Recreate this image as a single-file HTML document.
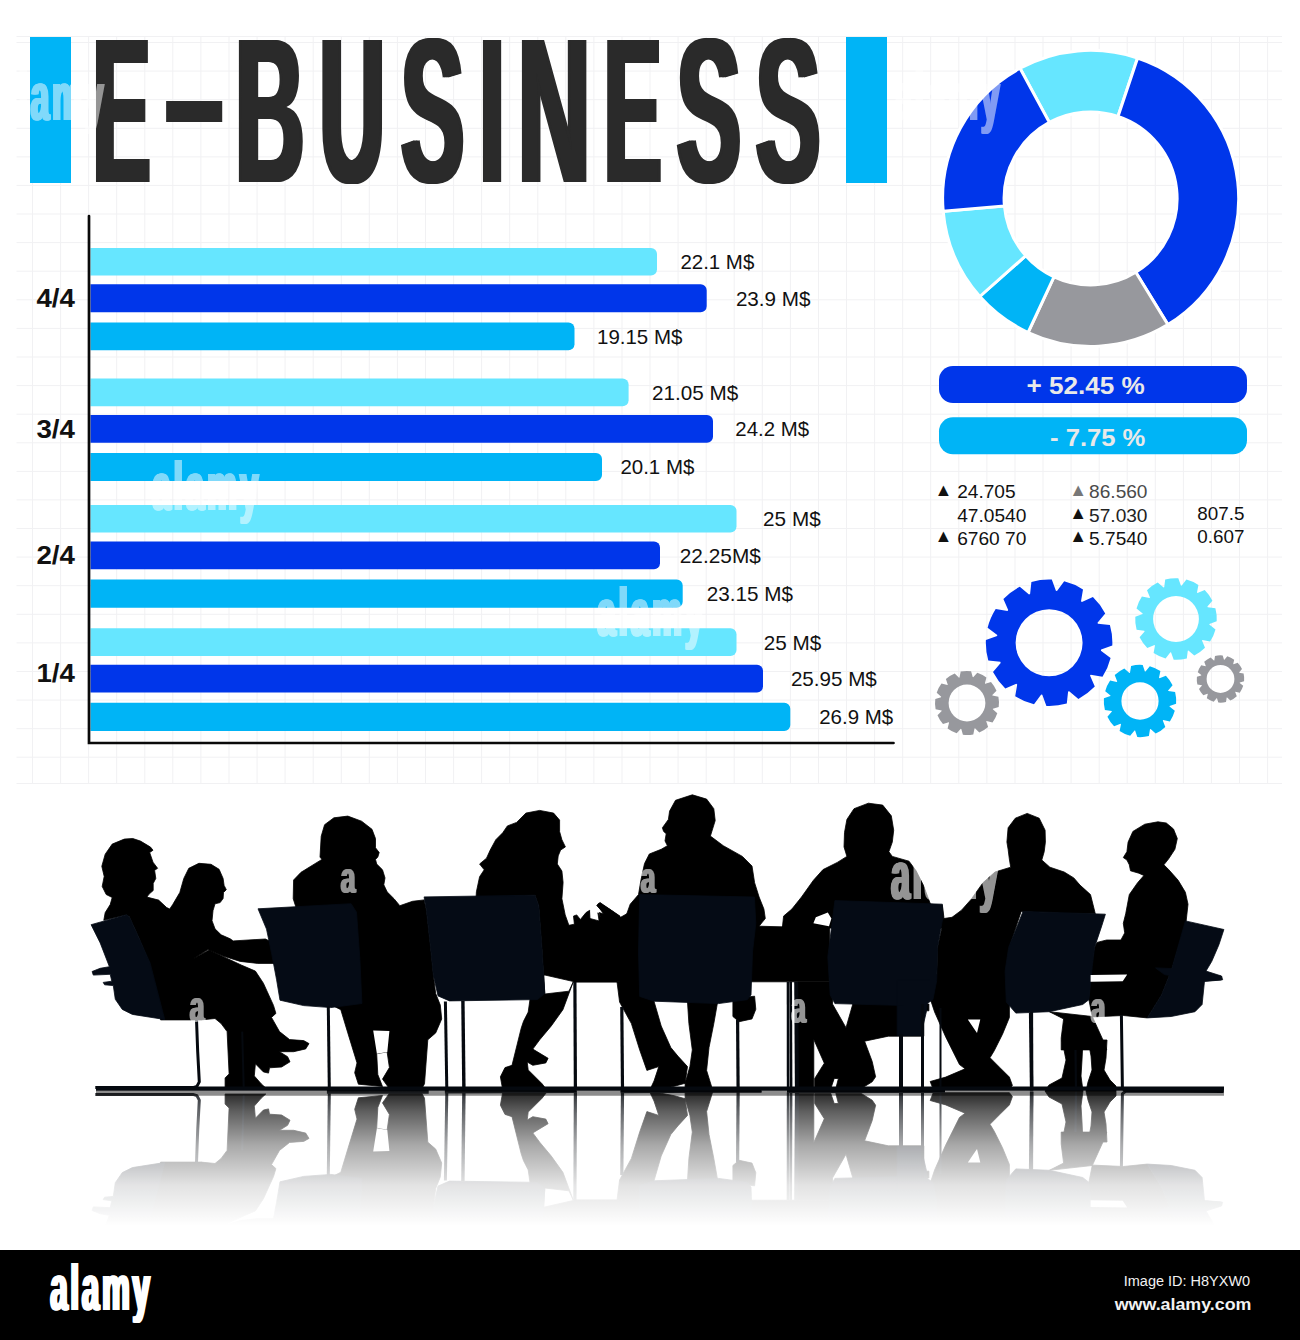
<!DOCTYPE html>
<html lang="en"><head><meta charset="utf-8"><title>E-Business</title>
<style>
html,body{margin:0;padding:0;background:#fff;}
body{width:1300px;height:1340px;position:relative;overflow:hidden;font-family:"Liberation Sans", sans-serif;}
svg{position:absolute;left:0;top:0;}
svg text{font-family:"Liberation Sans", sans-serif;}
.title{position:absolute;left:0;top:0;width:0;height:0;color:#2a2a2a;font-weight:bold;font-size:200px;line-height:1;}
.title span{position:absolute;left:0;top:0;display:block;white-space:pre;transform-origin:0 0;}
.foot{position:absolute;left:0;top:1250px;width:1300px;height:90px;background:#000;}
.logo{position:absolute;left:0;top:0;color:#fff;font-weight:bold;font-size:60px;line-height:1;white-space:pre;transform-origin:0 0;}
.fid,.furl{position:absolute;left:0;top:0;color:#f2f2f2;white-space:pre;line-height:1;transform-origin:0 0;}
.wm{position:absolute;left:0;top:0;color:#fff;font-weight:bold;font-size:60px;line-height:1;white-space:pre;transform-origin:0 0;}
</style></head><body>
<svg width="1300" height="1340" viewBox="0 0 1300 1340">
<defs><linearGradient id="fadeg" x1="0" y1="0" x2="0" y2="1"><stop offset="0" stop-color="#fff" stop-opacity="0.86"/><stop offset="0.15" stop-color="#fff" stop-opacity="0.63"/><stop offset="0.4" stop-color="#fff" stop-opacity="0.34"/><stop offset="0.7" stop-color="#fff" stop-opacity="0.11"/><stop offset="1" stop-color="#fff" stop-opacity="0"/></linearGradient><mask id="fadem" maskUnits="userSpaceOnUse" x="0" y="1091.0" width="1300" height="140"><rect x="0" y="1091.0" width="1300" height="135" fill="url(#fadeg)"/></mask><g id="sil"><path d="M124.3 839.1L132.8 838.5L140.5 841.1L150.5 847.1L153.0 850.2L149.7 852.6L153.0 862.2L157.6 868.3L154.6 870.3L155.8 878.4L153.2 883.4L153.2 890.5L149.1 894.1L146.9 897.1L158.6 900.1L166.7 907.6L169.7 909.0L180.8 930.8L192.9 959.0L209.0 983.2L221.1 1011.4L200.9 1019.9L160.6 1019.9L149.5 963.0L138.5 936.8L129.4 916.7L126.4 914.7L103.8 920.3L105.2 912.6L110.2 904.6L112.2 897.5L106.2 894.5L102.2 886.4L104.2 876.4L101.8 866.3L105.2 854.2L112.2 844.1ZM198.9 863.3L211.0 864.3L219.1 869.3L223.1 878.4L224.1 885.4L226.3 889.7L223.5 892.5L223.1 898.5L220.1 902.6L215.0 903.8L213.0 910.6L212.0 920.7L215.0 928.8L221.1 934.8L230.2 938.8L233.2 940.9L265.4 939.0L273.5 942.9L274.5 963.4L257.6 963.4L240.2 961.4L223.1 956.0L208.0 949.5L192.9 959.0L180.8 930.8L169.7 909.0L172.7 904.6L179.8 892.5L183.8 878.4L188.8 868.3ZM192.9 959.0L209.0 949.9L241.2 965.0L255.4 971.1L263.4 983.2L273.5 1005.4L275.9 1013.4L271.5 1017.4L279.5 1031.6L289.6 1039.6L303.7 1040.6L309.0 1043.6L305.7 1048.9L293.6 1051.7L279.5 1051.7L287.6 1056.7L290.0 1061.8L281.6 1067.0L269.5 1067.8L268.5 1073.1L263.4 1071.9L255.4 1063.8L254.3 1075.9L261.4 1084.0L265.8 1088.0L225.1 1088.0L225.1 1077.9L229.1 1073.9L227.1 1031.6L221.1 1023.5L215.0 1018.5L200.9 1019.9L209.0 983.2ZM321.2 836.3L324.6 824.7L333.9 817.8L347.8 816.1L361.6 821.2L372.0 829.3L375.5 838.6L375.5 847.8L379.2 852.5L377.8 857.1L375.5 859.4L376.7 864.0L382.5 869.8L385.0 877.9L383.8 884.8L387.1 891.8L394.0 898.7L399.8 905.7L412.5 901.3L424.1 899.9L426.4 910.3L431.0 951.9L433.3 975.0L435.7 993.5L440.3 1005.1L441.7 1019.0L435.7 1032.9L427.8 1039.8L424.5 1083.8L421.8 1088.8L389.4 1088.8L382.5 1079.1L389.4 1067.6L387.1 1051.8L376.7 1053.7L377.8 1074.5L382.5 1086.5L358.4 1084.2L354.7 1072.7L357.0 1062.9L347.8 1032.9L340.8 1009.7L320.0 999.3L306.1 998.2L302.7 951.9L296.9 910.3L293.2 898.7L293.6 880.0L301.0 872.3L321.9 859.4L320.0 857.1ZM516.6 822.4L525.9 813.1L539.7 810.4L553.6 813.1L559.6 820.1L559.6 831.6L561.9 839.7L565.4 846.9L560.6 850.1L558.2 855.9L557.3 864.0L561.9 871.0L563.1 882.5L561.9 898.7L565.2 914.9L568.9 925.3L574.4 924.2L573.5 916.1L576.7 914.9L580.4 919.5L586.0 912.6L589.7 910.3L588.5 919.5L597.6 923.0L601.3 919.5L599.0 912.6L603.6 913.7L597.6 905.7L600.1 902.6L611.4 910.3L620.0 916.1L620.0 982.0L573.3 982.0L568.9 991.2L544.8 994.0L542.1 949.6L538.8 905.7L535.1 895.2L476.1 896.9L476.4 891.8L479.6 876.7L484.2 869.8L479.6 864.0L486.5 858.2L490.2 850.1L495.8 839.7L502.7 832.8L507.4 825.9ZM532.8 979.7L528.2 1012.1L523.5 1021.3L521.2 1028.2L512.0 1065.3L505.0 1067.6L500.4 1076.8L502.7 1089.8L546.7 1089.8L542.1 1083.8L528.2 1069.9L527.2 1062.0L532.8 1065.3L545.8 1062.9L548.1 1058.3L532.8 1049.1L539.7 1039.8L551.3 1025.9L562.9 1009.7L569.8 991.2L573.3 981.5L544.8 975.0ZM575.2 920.9L580.0 920.9L584.8 917.3L589.6 911.4L590.0 918.5L599.1 920.9L597.9 912.8L600.5 917.3L606.3 916.1L596.7 905.4L599.1 902.8L611.1 910.2L620.6 917.3L626.8 913.8L639.7 928.1L759.1 926.2L829.6 928.1L829.6 981.8L575.2 981.8ZM692.3 794.8L706.6 799.1L713.8 808.7L715.2 820.6L710.4 836.1L723.3 845.7L742.4 856.4L752.0 866.0L754.6 882.7L759.1 897.0L763.9 909.0L765.3 918.5L759.1 926.2L755.6 947.2L639.7 947.2L626.8 913.8L630.2 904.2L638.5 894.6L640.9 880.3L644.5 863.6L649.3 854.0L661.2 849.3L667.4 845.7L665.0 840.9L666.2 833.7L663.6 831.4L662.4 827.8L668.4 819.4L669.6 811.1L675.5 800.3ZM732.9 998.5L732.9 1016.5L739.1 1021.7L752.0 1018.9L755.8 1009.3L754.6 996.2ZM617.0 981.8L619.6 1002.1L631.4 1023.6L639.7 1049.9L646.9 1070.4L658.8 1066.6L654.0 1081.0L649.3 1091.0L674.6 1086.2L685.1 1083.3L687.5 1066.6L677.9 1056.1L670.8 1047.5L661.2 1026.0L654.0 1001.2L651.7 981.8ZM687.5 1002.1L688.9 1023.6L692.3 1049.9L689.9 1066.6L685.1 1083.3L685.1 1090.5L712.8 1090.5L706.6 1070.4L709.0 1047.5L713.8 1023.6L717.6 1002.1ZM868.4 803.2L882.7 805.1L891.3 815.8L893.7 830.2L892.3 842.1L888.9 851.7L892.3 856.4L909.0 861.2L916.1 870.8L923.3 885.1L930.5 904.2L942.4 905.4L943.9 917.3L942.4 928.1L827.8 928.1L794.3 928.1L782.4 927.1L783.6 916.1L791.9 909.0L801.5 897.0L813.4 880.3L823.0 869.6L837.3 862.4L846.9 856.4L844.0 846.9L844.5 832.5L846.9 819.4L854.0 808.7ZM797.8 982.0L832.5 982.0L832.5 1004.0L846.0 1027.7L852.8 1004.0L928.9 1004.0L928.9 1010.8L923.8 1010.8L923.8 1036.2L888.3 1036.2L864.6 1041.2L872.2 1061.5L875.6 1076.8L872.2 1081.8L861.2 1088.6L835.8 1088.6L838.4 1078.5L834.2 1078.5L830.8 1088.6L814.7 1088.6L814.7 1078.5L824.3 1063.2L813.8 1039.5L813.8 1088.6L797.8 1088.6ZM1027.2 813.4L1039.2 818.2L1045.1 830.2L1045.4 842.1L1044.2 851.7L1041.8 860.0L1049.9 867.2L1064.2 872.0L1073.8 877.9L1080.0 885.1L1090.5 894.6L1095.3 913.8L1080.0 913.8L1021.2 911.4L1009.3 947.2L1006.0 971.1L1006.9 1002.1L995.0 1009.3L947.2 1009.3L930.5 995.0L936.7 980.6L937.6 947.2L943.9 918.5L952.0 917.3L961.5 910.2L971.1 899.4L983.0 882.7L995.0 872.0L1010.7 867.2L1009.3 858.8L1008.1 849.3L1006.9 842.1L1008.1 827.8L1015.3 818.2ZM929.1 974.6L1009.4 974.6L1009.4 1017.5L1002.5 1034.2L994.2 1050.8L990.0 1057.7L999.7 1067.4L1009.4 1077.1L1012.4 1085.4L1009.4 1089.3L933.2 1089.3L930.2 1081.5L945.7 1077.1L965.1 1068.8L959.5 1064.6L945.7 1036.9L934.6 1012.0L929.1 995.4ZM1157.9 821.8L1166.3 823.0L1173.5 829.0L1177.3 838.5L1174.9 849.3L1168.7 858.8L1163.9 864.8L1168.7 869.6L1178.2 880.3L1185.4 892.3L1188.0 904.2L1185.9 923.3L1171.1 971.1L1161.5 995.0L1147.2 1017.9L1123.3 1015.5L1092.3 1016.9L1088.9 999.7L1089.9 975.9L1094.6 947.2L1097.0 942.4L1106.6 940.0L1120.9 940.0L1124.7 932.9L1123.3 923.3L1125.7 913.8L1129.3 894.6L1137.6 882.7L1143.9 875.5L1138.8 873.2L1130.5 870.8L1129.3 864.8L1126.9 860.0L1123.3 857.6L1126.9 851.7L1128.1 842.1L1132.9 831.4L1144.8 824.2ZM1049.3 1011.7L1092.3 1016.5L1104.2 1042.7L1106.8 1049.9L1061.2 1049.9L1061.2 1038.0L1063.6 1018.9ZM1062.0 1040.0L1083.0 1040.0L1082.0 1060.0L1081.0 1076.0L1083.0 1091.0L1045.0 1091.0L1049.0 1085.0L1062.0 1078.0L1066.0 1060.0ZM1088.0 1040.0L1107.0 1040.0L1106.0 1058.0L1104.0 1070.0L1110.0 1080.0L1116.0 1086.0L1116.0 1091.0L1086.0 1091.0L1088.0 1082.0L1092.0 1070.0L1091.0 1056.0Z" fill="#000" stroke="#000" stroke-width="0.8" stroke-linejoin="round"/><path d="M91.1 924.7L126.4 914.7L129.4 916.7L138.5 936.8L146.5 955.0L150.1 963.0L164.7 1019.5L132.4 1014.4L122.3 1009.4L115.3 999.3L113.3 985.6L104.6 984.8L103.2 982.4L111.8 981.2L110.2 974.3L93.3 975.1L92.1 971.5L100.2 968.3L109.4 966.7L100.2 942.9ZM258.0 908.8L351.1 903.7L356.5 912.2L359.9 959.5L361.9 1003.5L330.8 1007.6L303.7 1005.6L280.0 1000.2L276.6 979.8L271.5 952.8L266.5 929.1ZM424.1 896.9L535.1 895.2L538.8 905.7L542.1 949.6L544.8 993.5L537.4 999.6L449.5 1000.9L438.0 995.9L433.3 975.0L431.0 951.9L426.4 910.3ZM639.7 894.6L754.4 897.0L755.8 923.3L752.5 952.0L751.0 995.0L747.2 999.7L718.5 1003.6L654.0 1001.2L639.7 996.4L638.5 952.0ZM834.9 900.6L942.4 904.2L942.9 917.3L937.6 947.2L936.7 980.6L932.9 999.7L923.3 1006.0L834.9 1003.6L830.2 995.0L827.8 956.8ZM897.2 980.2L929.8 980.2L927.7 998.2L926.3 1012.0L920.8 1035.5L897.2 1035.5ZM1023.0 911.4L1105.4 914.2L1101.8 925.7L1094.6 947.2L1092.3 966.3L1088.9 999.7L1082.7 1004.5L1049.3 1011.7L1015.8 1013.1L1006.3 1002.1L1005.1 971.1L1008.7 947.2ZM1185.4 920.9L1223.9 929.5L1218.9 944.8L1211.7 961.5L1206.0 971.1L1221.2 975.9L1222.7 979.7L1204.5 981.1L1202.1 1004.5L1195.0 1011.7L1171.1 1016.5L1147.2 1017.9L1161.5 995.0L1171.1 971.1ZM1155.5 967.9L1183.9 969.0L1221.9 976.4L1221.5 980.0L1203.3 981.5L1164.5 974.6Z" fill="#050b15" stroke="#050b15" stroke-width="0.8" stroke-linejoin="round"/><path d="M196.5 1019.5L197.7 1051.7L199.3 1081.9L196.9 1086.4L192.9 1087.6L95.3 1087.6" fill="none" stroke="#05090f" stroke-width="3.0" stroke-linejoin="round"/><path d="M242.2 1031.6L243.7 1087.0" fill="none" stroke="#05090f" stroke-width="2.0" stroke-linejoin="round"/><path d="M328.3 1006.3L329.3 1088.8" fill="none" stroke="#05090f" stroke-width="3.0" stroke-linejoin="round"/><path d="M326.9 1089.8L428.7 1089.8" fill="none" stroke="#05090f" stroke-width="3.0" stroke-linejoin="round"/><path d="M445.4 1001.6L446.8 1089.8" fill="none" stroke="#05090f" stroke-width="3.0" stroke-linejoin="round"/><path d="M462.9 1000.9L463.9 1089.8" fill="none" stroke="#05090f" stroke-width="3.4" stroke-linejoin="round"/><path d="M574.9 982.0L575.4 1089.8" fill="none" stroke="#05090f" stroke-width="3.2" stroke-linejoin="round"/><path d="M444.9 1090.0L576.7 1090.5" fill="none" stroke="#05090f" stroke-width="3.0" stroke-linejoin="round"/><path d="M621.8 1006.9L622.5 1090.0" fill="none" stroke="#05090f" stroke-width="3.2" stroke-linejoin="round"/><path d="M737.6 1020.0L738.1 1090.0" fill="none" stroke="#05090f" stroke-width="3.2" stroke-linejoin="round"/><path d="M620.6 1090.3L761.5 1091.0" fill="none" stroke="#05090f" stroke-width="3.2" stroke-linejoin="round"/><path d="M790.7 981.8L791.1 1090.5" fill="none" stroke="#05090f" stroke-width="2.6" stroke-linejoin="round"/><path d="M796.2 981.8L796.9 1090.5" fill="none" stroke="#05090f" stroke-width="4.0" stroke-linejoin="round"/><path d="M788.0 982.0L788.1 1089.5" fill="none" stroke="#05090f" stroke-width="2.6" stroke-linejoin="round"/><path d="M901.0 1034.0L901.0 1090.0" fill="none" stroke="#05090f" stroke-width="4.0" stroke-linejoin="round"/><path d="M922.5 1004.0L922.5 1090.0" fill="none" stroke="#05090f" stroke-width="3.0" stroke-linejoin="round"/><path d="M940.5 1008.0L940.5 1090.0" fill="none" stroke="#05090f" stroke-width="2.0" stroke-linejoin="round"/><path d="M787.0 1090.5L945.0 1090.5" fill="none" stroke="#05090f" stroke-width="3.0" stroke-linejoin="round"/><path d="M1030.6 1012.9L1031.6 1090.5" fill="none" stroke="#05090f" stroke-width="3.4" stroke-linejoin="round"/><path d="M1075.5 1049.9L1076.0 1090.5" fill="none" stroke="#05090f" stroke-width="2.2" stroke-linejoin="round"/><path d="M1031.5 1012.0L1031.8 1090.2" fill="none" stroke="#05090f" stroke-width="3.2" stroke-linejoin="round"/><path d="M1121.4 1015.3L1122.4 1088.1L1125.7 1091.0L1223.6 1091.5" fill="none" stroke="#05090f" stroke-width="3.0" stroke-linejoin="round"/><path d="M373.2 1030.6L389.4 1031.0L387.3 1052.1L376.9 1053.7ZM813.4 923.3L815.8 917.3L827.8 912.6L831.4 918.5L829.0 926.2ZM967.8 1019.5L980.3 1019.5L977.0 1033.0ZM1090.6 975.1L1127.2 974.6L1122.7 981.3L1090.6 981.8Z" fill="#fff"/></g></defs>
<path d="M32.5 36.5V783.5M60.6 36.5V783.5M88.6 36.5V783.5M116.7 36.5V783.5M144.8 36.5V783.5M172.8 36.5V783.5M200.9 36.5V783.5M229.0 36.5V783.5M257.1 36.5V783.5M285.1 36.5V783.5M313.2 36.5V783.5M341.3 36.5V783.5M369.3 36.5V783.5M397.4 36.5V783.5M425.5 36.5V783.5M453.6 36.5V783.5M481.6 36.5V783.5M509.7 36.5V783.5M537.8 36.5V783.5M565.8 36.5V783.5M593.9 36.5V783.5M622.0 36.5V783.5M650.0 36.5V783.5M678.1 36.5V783.5M706.2 36.5V783.5M734.2 36.5V783.5M762.3 36.5V783.5M790.4 36.5V783.5M818.5 36.5V783.5M846.5 36.5V783.5M874.6 36.5V783.5M902.7 36.5V783.5M930.7 36.5V783.5M958.8 36.5V783.5M986.9 36.5V783.5M1015.0 36.5V783.5M1043.0 36.5V783.5M1071.1 36.5V783.5M1099.2 36.5V783.5M1127.2 36.5V783.5M1155.3 36.5V783.5M1183.4 36.5V783.5M1211.4 36.5V783.5M1239.5 36.5V783.5M1267.6 36.5V783.5M16.5 42.5H1282M16.5 71.1H1282M16.5 99.7H1282M16.5 128.3H1282M16.5 156.9H1282M16.5 185.4H1282M16.5 214.0H1282M16.5 242.6H1282M16.5 271.2H1282M16.5 299.8H1282M16.5 328.4H1282M16.5 357.0H1282M16.5 385.6H1282M16.5 414.2H1282M16.5 442.8H1282M16.5 471.4H1282M16.5 499.9H1282M16.5 528.5H1282M16.5 557.1H1282M16.5 585.7H1282M16.5 614.3H1282M16.5 642.9H1282M16.5 671.5H1282M16.5 700.1H1282M16.5 728.7H1282M16.5 757.2H1282M16.5 36.5H1282M16.5 783.5H1282" stroke="#f1f1f3" stroke-width="1" fill="none"/>
<rect x="30" y="37" width="41" height="146" fill="#00b4f6"/>
<rect x="846" y="37" width="41" height="146" fill="#00b4f6"/>
<path d="M90.5 248.0H651.0a6 6 0 0 1 6 6V269.6a6 6 0 0 1 -6 6H90.5Z" fill="#66e6ff"/>
<path d="M90.5 284.3H700.7a6 6 0 0 1 6 6V306.2a6 6 0 0 1 -6 6H90.5Z" fill="#0036ea"/>
<path d="M90.5 322.4H568.5a6 6 0 0 1 6 6V344.3a6 6 0 0 1 -6 6H90.5Z" fill="#00b4f6"/>
<path d="M90.5 378.6H622.6a6 6 0 0 1 6 6V400.2a6 6 0 0 1 -6 6H90.5Z" fill="#66e6ff"/>
<path d="M90.5 415.0H707.0a6 6 0 0 1 6 6V436.8a6 6 0 0 1 -6 6H90.5Z" fill="#0036ea"/>
<path d="M90.5 453.0H596.0a6 6 0 0 1 6 6V474.9a6 6 0 0 1 -6 6H90.5Z" fill="#00b4f6"/>
<path d="M90.5 504.9H730.5a6 6 0 0 1 6 6V526.6a6 6 0 0 1 -6 6H90.5Z" fill="#66e6ff"/>
<path d="M90.5 541.4H654.0a6 6 0 0 1 6 6V563.2a6 6 0 0 1 -6 6H90.5Z" fill="#0036ea"/>
<path d="M90.5 579.4H676.7a6 6 0 0 1 6 6V601.8a6 6 0 0 1 -6 6H90.5Z" fill="#00b4f6"/>
<path d="M90.5 628.2H730.5a6 6 0 0 1 6 6V650.0a6 6 0 0 1 -6 6H90.5Z" fill="#66e6ff"/>
<path d="M90.5 664.8H757.0a6 6 0 0 1 6 6V686.6a6 6 0 0 1 -6 6H90.5Z" fill="#0036ea"/>
<path d="M90.5 702.8H784.3a6 6 0 0 1 6 6V724.9a6 6 0 0 1 -6 6H90.5Z" fill="#00b4f6"/>
<text x="680.4" y="269.3" font-size="21" textLength="73.9" lengthAdjust="spacingAndGlyphs" fill="#111">22.1 M$</text>
<text x="735.9" y="305.8" font-size="21" textLength="74.6" lengthAdjust="spacingAndGlyphs" fill="#111">23.9 M$</text>
<text x="597.0" y="343.9" font-size="21" textLength="85.4" lengthAdjust="spacingAndGlyphs" fill="#111">19.15 M$</text>
<text x="652.0" y="399.9" font-size="21" textLength="86.2" lengthAdjust="spacingAndGlyphs" fill="#111">21.05 M$</text>
<text x="735.3" y="436.4" font-size="21" textLength="73.7" lengthAdjust="spacingAndGlyphs" fill="#111">24.2 M$</text>
<text x="620.4" y="474.4" font-size="21" textLength="74.0" lengthAdjust="spacingAndGlyphs" fill="#111">20.1 M$</text>
<text x="763.1" y="526.2" font-size="21" textLength="57.6" lengthAdjust="spacingAndGlyphs" fill="#111">25 M$</text>
<text x="679.8" y="562.8" font-size="21" textLength="81.0" lengthAdjust="spacingAndGlyphs" fill="#111">22.25M$</text>
<text x="706.7" y="601.1" font-size="21" textLength="86.2" lengthAdjust="spacingAndGlyphs" fill="#111">23.15 M$</text>
<text x="763.7" y="649.6" font-size="21" textLength="57.6" lengthAdjust="spacingAndGlyphs" fill="#111">25 M$</text>
<text x="790.9" y="686.2" font-size="21" textLength="85.9" lengthAdjust="spacingAndGlyphs" fill="#111">25.95 M$</text>
<text x="819.2" y="724.3" font-size="21" textLength="74.0" lengthAdjust="spacingAndGlyphs" fill="#111">26.9 M$</text>
<path d="M89 216V743H893.5" stroke="#0a0a0a" stroke-width="2.7" fill="none" stroke-linecap="round" stroke-linejoin="miter"/>
<text x="36.4" y="306.8" font-size="25" font-weight="bold" textLength="38.5" lengthAdjust="spacingAndGlyphs" fill="#111">4/4</text>
<text x="36.4" y="438.3" font-size="25" font-weight="bold" textLength="38.5" lengthAdjust="spacingAndGlyphs" fill="#111">3/4</text>
<text x="36.4" y="564.2" font-size="25" font-weight="bold" textLength="38.5" lengthAdjust="spacingAndGlyphs" fill="#111">2/4</text>
<text x="36.4" y="682.3" font-size="25" font-weight="bold" textLength="38.5" lengthAdjust="spacingAndGlyphs" fill="#111">1/4</text>
<path d="M1020.0 68.3A148.0 148.0 0 0 1 1137.6 58.0L1118.0 116.4A86.5 86.5 0 0 0 1049.3 122.4Z" fill="#66e6ff" stroke="#fff" stroke-width="3" stroke-linejoin="miter"/>
<path d="M1137.6 58.0A148.0 148.0 0 0 1 1167.9 324.6L1135.8 272.2A86.5 86.5 0 0 0 1118.0 116.4Z" fill="#0036ea" stroke="#fff" stroke-width="3" stroke-linejoin="miter"/>
<path d="M1167.9 324.6A148.0 148.0 0 0 1 1028.1 332.5L1054.0 276.8A86.5 86.5 0 0 0 1135.8 272.2Z" fill="#97989d" stroke="#fff" stroke-width="3" stroke-linejoin="miter"/>
<path d="M1028.1 332.5A148.0 148.0 0 0 1 979.8 296.5L1025.8 255.7A86.5 86.5 0 0 0 1054.0 276.8Z" fill="#00b4f6" stroke="#fff" stroke-width="3" stroke-linejoin="miter"/>
<path d="M979.8 296.5A148.0 148.0 0 0 1 943.2 211.3L1004.4 205.9A86.5 86.5 0 0 0 1025.8 255.7Z" fill="#66e6ff" stroke="#fff" stroke-width="3" stroke-linejoin="miter"/>
<path d="M943.2 211.3A148.0 148.0 0 0 1 1020.0 68.3L1049.3 122.4A86.5 86.5 0 0 0 1004.4 205.9Z" fill="#0036ea" stroke="#fff" stroke-width="3" stroke-linejoin="miter"/>
<rect x="939" y="366" width="308" height="37" rx="14" fill="#0036ea"/>
<rect x="939" y="417.3" width="308" height="37" rx="14" fill="#00b4f6"/>
<text x="1026.4" y="393.6" font-size="24" font-weight="bold" textLength="118.4" lengthAdjust="spacingAndGlyphs" fill="#e9e9e9">+ 52.45 %</text>
<text x="1050" y="445.6" font-size="24" font-weight="bold" textLength="95.4" lengthAdjust="spacingAndGlyphs" fill="#e9e9e9">- 7.75 %</text>
<text x="934.6" y="495.6" font-size="18" fill="#111" font-family="'DejaVu Sans', sans-serif">▲</text>
<text x="957.2" y="498.1" font-size="19" textLength="58.4" lengthAdjust="spacingAndGlyphs" fill="#111">24.705</text>
<text x="957.2" y="521.5" font-size="19" textLength="69.2" lengthAdjust="spacingAndGlyphs" fill="#111">47.0540</text>
<text x="934.6" y="542.3" font-size="18" fill="#111" font-family="'DejaVu Sans', sans-serif">▲</text>
<text x="957.2" y="544.7" font-size="19" textLength="69.2" lengthAdjust="spacingAndGlyphs" fill="#111">6760 70</text>
<text x="1069.2" y="495.6" font-size="18" fill="#777" font-family="'DejaVu Sans', sans-serif">▲</text>
<text x="1089.1" y="498.1" font-size="19" textLength="58.4" lengthAdjust="spacingAndGlyphs" fill="#4a4a4a">86.560</text>
<text x="1069.2" y="519.0" font-size="18" fill="#111" font-family="'DejaVu Sans', sans-serif">▲</text>
<text x="1089.1" y="521.5" font-size="19" textLength="58.4" lengthAdjust="spacingAndGlyphs" fill="#222">57.030</text>
<text x="1069.2" y="542.3" font-size="18" fill="#111" font-family="'DejaVu Sans', sans-serif">▲</text>
<text x="1089.1" y="544.7" font-size="19" textLength="58.4" lengthAdjust="spacingAndGlyphs" fill="#111">5.7540</text>
<text x="1197.3" y="520.2" font-size="19" textLength="47.1" lengthAdjust="spacingAndGlyphs" fill="#111">807.5</text>
<text x="1197.3" y="543.3" font-size="19" textLength="47.1" lengthAdjust="spacingAndGlyphs" fill="#111">0.607</text>
<path d="M1030.1 594.0L1031.4 582.0A63.3 63.3 0 0 1 1051.8 579.6L1055.9 590.8L1057.0 591.0L1064.2 581.3A63.3 63.3 0 0 1 1083.0 589.4L1081.0 601.2L1081.9 601.9L1092.9 597.1A63.3 63.3 0 0 1 1105.2 613.5L1097.5 622.7L1097.9 623.8L1109.9 625.1A63.3 63.3 0 0 1 1112.3 645.5L1101.1 649.6L1100.9 650.7L1110.6 657.9A63.3 63.3 0 0 1 1102.5 676.7L1090.7 674.7L1090.0 675.6L1094.8 686.6A63.3 63.3 0 0 1 1078.4 698.9L1069.2 691.2L1068.1 691.6L1066.8 703.6A63.3 63.3 0 0 1 1046.4 706.0L1042.3 694.8L1041.2 694.6L1034.0 704.3A63.3 63.3 0 0 1 1015.2 696.2L1017.2 684.4L1016.3 683.7L1005.3 688.5A63.3 63.3 0 0 1 993.0 672.1L1000.7 662.9L1000.3 661.8L988.3 660.5A63.3 63.3 0 0 1 985.9 640.1L997.1 636.0L997.3 634.9L987.6 627.7A63.3 63.3 0 0 1 995.7 608.9L1007.5 610.9L1008.2 610.0L1003.4 599.0A63.3 63.3 0 0 1 1019.8 586.7L1029.0 594.4ZM1015.6 642.8a33.5 33.5 0 1 0 67.0 0a33.5 33.5 0 1 0 -67.0 0Z" fill="#0036ea" fill-rule="evenodd"/>
<path d="M959.5 677.6L960.7 671.6A32.0 32.0 0 0 1 971.1 671.3L972.7 677.1L973.2 677.2L977.3 672.7A32.0 32.0 0 0 1 986.4 677.5L984.9 683.4L985.3 683.8L991.0 681.9A32.0 32.0 0 0 1 996.5 690.7L992.3 695.0L992.4 695.5L998.4 696.7A32.0 32.0 0 0 1 998.7 707.1L992.9 708.7L992.8 709.2L997.3 713.3A32.0 32.0 0 0 1 992.5 722.4L986.6 720.9L986.2 721.3L988.1 727.0A32.0 32.0 0 0 1 979.3 732.5L975.0 728.3L974.5 728.4L973.3 734.4A32.0 32.0 0 0 1 962.9 734.7L961.3 728.9L960.8 728.8L956.7 733.3A32.0 32.0 0 0 1 947.6 728.5L949.1 722.6L948.7 722.2L943.0 724.1A32.0 32.0 0 0 1 937.5 715.3L941.7 711.0L941.6 710.5L935.6 709.3A32.0 32.0 0 0 1 935.3 698.9L941.1 697.3L941.2 696.8L936.7 692.7A32.0 32.0 0 0 1 941.5 683.6L947.4 685.1L947.8 684.7L945.9 679.0A32.0 32.0 0 0 1 954.7 673.5L959.0 677.7ZM948.6 703.0a18.4 18.4 0 1 0 36.8 0a18.4 18.4 0 1 0 -36.8 0Z" fill="#97989d" fill-rule="evenodd"/>
<path d="M1164.2 587.3L1165.2 579.6A40.8 40.8 0 0 1 1178.3 578.3L1180.9 585.6L1181.6 585.7L1186.4 579.5A40.8 40.8 0 0 1 1198.4 584.9L1197.0 592.5L1197.5 593.0L1204.7 590.0A40.8 40.8 0 0 1 1212.4 600.7L1207.4 606.6L1207.7 607.2L1215.4 608.2A40.8 40.8 0 0 1 1216.7 621.3L1209.4 623.9L1209.3 624.6L1215.5 629.4A40.8 40.8 0 0 1 1210.1 641.4L1202.5 640.0L1202.0 640.5L1205.0 647.7A40.8 40.8 0 0 1 1194.3 655.4L1188.4 650.4L1187.8 650.7L1186.8 658.4A40.8 40.8 0 0 1 1173.7 659.7L1171.1 652.4L1170.4 652.3L1165.6 658.5A40.8 40.8 0 0 1 1153.6 653.1L1155.0 645.5L1154.5 645.0L1147.3 648.0A40.8 40.8 0 0 1 1139.6 637.3L1144.6 631.4L1144.3 630.8L1136.6 629.8A40.8 40.8 0 0 1 1135.3 616.7L1142.6 614.1L1142.7 613.4L1136.5 608.6A40.8 40.8 0 0 1 1141.9 596.6L1149.5 598.0L1150.0 597.5L1147.0 590.3A40.8 40.8 0 0 1 1157.7 582.6L1163.6 587.6ZM1153.1 619.0a22.9 22.9 0 1 0 45.8 0a22.9 22.9 0 1 0 -45.8 0Z" fill="#66e6ff" fill-rule="evenodd"/>
<path d="M1130.0 672.7L1131.1 665.9A36.2 36.2 0 0 1 1142.7 664.9L1144.9 671.4L1145.5 671.5L1149.8 666.2A36.2 36.2 0 0 1 1160.4 671.1L1159.0 677.8L1159.5 678.2L1165.9 675.7A36.2 36.2 0 0 1 1172.6 685.3L1168.1 690.4L1168.3 691.0L1175.1 692.1A36.2 36.2 0 0 1 1176.1 703.7L1169.6 705.9L1169.5 706.5L1174.8 710.8A36.2 36.2 0 0 1 1169.9 721.4L1163.2 720.0L1162.8 720.5L1165.3 726.9A36.2 36.2 0 0 1 1155.7 733.6L1150.6 729.1L1150.0 729.3L1148.9 736.1A36.2 36.2 0 0 1 1137.3 737.1L1135.1 730.6L1134.5 730.5L1130.2 735.8A36.2 36.2 0 0 1 1119.6 730.9L1121.0 724.2L1120.5 723.8L1114.1 726.3A36.2 36.2 0 0 1 1107.4 716.7L1111.9 711.6L1111.7 711.0L1104.9 709.9A36.2 36.2 0 0 1 1103.9 698.3L1110.4 696.1L1110.5 695.5L1105.2 691.2A36.2 36.2 0 0 1 1110.1 680.6L1116.8 682.0L1117.2 681.5L1114.7 675.1A36.2 36.2 0 0 1 1124.3 668.4L1129.4 672.9ZM1121.4 701.0a18.6 18.6 0 1 0 37.2 0a18.6 18.6 0 1 0 -37.2 0Z" fill="#00b4f6" fill-rule="evenodd"/>
<path d="M1214.3 660.4L1215.0 655.9A23.7 23.7 0 0 1 1222.7 655.4L1224.0 659.7L1224.4 659.8L1227.3 656.3A23.7 23.7 0 0 1 1234.2 659.7L1233.2 664.1L1233.5 664.3L1237.7 662.7A23.7 23.7 0 0 1 1242.0 669.1L1239.0 672.4L1239.1 672.8L1243.6 673.5A23.7 23.7 0 0 1 1244.1 681.2L1239.8 682.5L1239.7 682.9L1243.2 685.8A23.7 23.7 0 0 1 1239.8 692.7L1235.4 691.7L1235.2 692.0L1236.8 696.2A23.7 23.7 0 0 1 1230.4 700.5L1227.1 697.5L1226.7 697.6L1226.0 702.1A23.7 23.7 0 0 1 1218.3 702.6L1217.0 698.3L1216.6 698.2L1213.7 701.7A23.7 23.7 0 0 1 1206.8 698.3L1207.8 693.9L1207.5 693.7L1203.3 695.3A23.7 23.7 0 0 1 1199.0 688.9L1202.0 685.6L1201.9 685.2L1197.4 684.5A23.7 23.7 0 0 1 1196.9 676.8L1201.2 675.5L1201.3 675.1L1197.8 672.2A23.7 23.7 0 0 1 1201.2 665.3L1205.6 666.3L1205.8 666.0L1204.2 661.8A23.7 23.7 0 0 1 1210.6 657.5L1213.9 660.5ZM1206.6 679.0a13.9 13.9 0 1 0 27.8 0a13.9 13.9 0 1 0 -27.8 0Z" fill="#97989d" fill-rule="evenodd"/>
<use href="#sil"/>
<g mask="url(#fadem)"><use href="#sil" transform="translate(0,2182.0) scale(1,-1)"/></g>
<path d="M96 1088.6H1224" stroke="#05090f" stroke-width="4.4" fill="none"/>
<path d="M96 1093.2H1224" stroke="#000" stroke-opacity="0.45" stroke-width="5.2" fill="none"/>
</svg>
<div class="title"><span style="text-shadow:6.53px 0 0 #2a2a2a,-6.53px 0 0 #2a2a2a,3.27px 0 0 #2a2a2a,-3.27px 0 0 #2a2a2a;transform:matrix(0.4287,0,0,1.0283,93.06,8.00)">E</span><span style="transform:matrix(1.1043,0,0,0.8782,157.59,8.76)">-</span><span style="text-shadow:5.85px 0 0 #2a2a2a,-5.85px 0 0 #2a2a2a,2.92px 0 0 #2a2a2a,-2.92px 0 0 #2a2a2a;transform:matrix(0.4787,0,0,1.0283,235.19,8.00)">B</span><span style="text-shadow:6.24px 0 0 #2a2a2a,-6.24px 0 0 #2a2a2a,3.12px 0 0 #2a2a2a,-3.12px 0 0 #2a2a2a;transform:matrix(0.4484,0,0,1.0283,319.92,8.00)">U</span><span style="text-shadow:5.92px 0 0 #2a2a2a,-5.92px 0 0 #2a2a2a,2.96px 0 0 #2a2a2a,-2.96px 0 0 #2a2a2a;transform:matrix(0.4733,0,0,1.0283,400.95,8.00)">S</span><span style="transform:matrix(0.6319,0,0,1.0283,474.43,8.00)">I</span><span style="text-shadow:5.61px 0 0 #2a2a2a,-5.61px 0 0 #2a2a2a,2.80px 0 0 #2a2a2a,-2.80px 0 0 #2a2a2a;transform:matrix(0.4991,0,0,1.0283,518.11,8.00)">N</span><span style="text-shadow:6.55px 0 0 #2a2a2a,-6.55px 0 0 #2a2a2a,3.27px 0 0 #2a2a2a,-3.27px 0 0 #2a2a2a;transform:matrix(0.4278,0,0,1.0283,604.27,8.00)">E</span><span style="text-shadow:5.84px 0 0 #2a2a2a,-5.84px 0 0 #2a2a2a,2.92px 0 0 #2a2a2a,-2.92px 0 0 #2a2a2a;transform:matrix(0.4791,0,0,1.0283,676.92,8.00)">S</span><span style="text-shadow:5.78px 0 0 #2a2a2a,-5.78px 0 0 #2a2a2a,2.89px 0 0 #2a2a2a,-2.89px 0 0 #2a2a2a;transform:matrix(0.4841,0,0,1.0283,755.69,8.00)">S</span></div>
<div class="wm" style="color:#fff;letter-spacing:5.00px;text-shadow:2.50px 0 0 #fff,-2.50px 0 0 #fff,1.25px 0 0 #fff,-1.25px 0 0 #fff;transform:matrix(0.5605,0,0,1.1502,152.05,452.37);opacity:0.5">alamy</div>
<div class="wm" style="color:#fff;letter-spacing:5.00px;text-shadow:2.50px 0 0 #fff,-2.50px 0 0 #fff,1.25px 0 0 #fff,-1.25px 0 0 #fff;transform:matrix(0.5605,0,0,1.1502,597.05,578.07);opacity:0.5">alamy</div>
<div class="wm" style="color:#fff;letter-spacing:5.00px;text-shadow:2.50px 0 0 #fff,-2.50px 0 0 #fff,1.25px 0 0 #fff,-1.25px 0 0 #fff;transform:matrix(0.5605,0,0,1.1502,-2.95,62.57);opacity:0.5">alamy</div>
<div class="wm" style="color:#fff;letter-spacing:5.00px;text-shadow:2.50px 0 0 #fff,-2.50px 0 0 #fff,1.25px 0 0 #fff,-1.25px 0 0 #fff;transform:matrix(0.5605,0,0,1.1502,893.05,62.57);opacity:0.5">alamy</div>
<div class="wm" style="color:#fff;letter-spacing:4.96px;text-shadow:2.48px 0 0 #fff,-2.48px 0 0 #fff,1.24px 0 0 #fff,-1.24px 0 0 #fff;transform:matrix(0.5647,0,0,1.1502,891.04,841.07);opacity:0.58">alamy</div>
<div class="wm" style="color:#fff;opacity:0.58;font-size:44px;text-shadow:1.6px 0 0 #fff,-1.6px 0 0 #fff;transform:matrix(0.6,0,0,1.0,340.8,856.3)">a</div>
<div class="wm" style="color:#fff;opacity:0.58;font-size:44px;text-shadow:1.6px 0 0 #fff,-1.6px 0 0 #fff;transform:matrix(0.6,0,0,1.0,189.8,984.8)">a</div>
<div class="wm" style="color:#fff;opacity:0.58;font-size:44px;text-shadow:1.6px 0 0 #fff,-1.6px 0 0 #fff;transform:matrix(0.6,0,0,1.0,640.8,856.3)">a</div>
<div class="wm" style="color:#fff;opacity:0.58;font-size:44px;text-shadow:1.6px 0 0 #fff,-1.6px 0 0 #fff;transform:matrix(0.6,0,0,1.0,791.2,986.4)">a</div>
<div class="wm" style="color:#fff;opacity:0.58;font-size:44px;text-shadow:1.6px 0 0 #fff,-1.6px 0 0 #fff;transform:matrix(0.6,0,0,1.0,1090.8,986.4)">a</div>
<div class="foot">
<div class="logo" style="color:#fff;letter-spacing:5.40px;text-shadow:2.70px 0 0 #fff,-2.70px 0 0 #fff,1.35px 0 0 #fff,-1.35px 0 0 #fff;transform:matrix(0.5188,0,0,1.0703,50.35,6.03);">alamy</div>
<div class="fid" id="fid" style="font-size:13.8px;transform:matrix(1.05,0,0,1,1123.75,25.2)">Image ID: H8YXW0</div>
<div class="furl" id="furl" style="font-size:16px;font-weight:bold;transform:matrix(1.114,0,0,1,1114.7,47)">www.alamy.com</div>
</div>
</body></html>
